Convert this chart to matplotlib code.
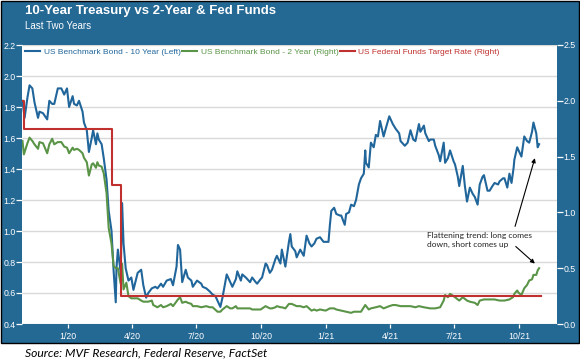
import matplotlib
matplotlib.use("Agg")
import matplotlib.pyplot as plt
from matplotlib.patches import Rectangle
import pandas as pd

# ---------------- data ----------------
dates_10y = ["2019-10-29","2019-11-01","2019-11-05","2019-11-08","2019-11-12","2019-11-15","2019-11-20","2019-11-22",
 "2019-11-27","2019-12-03","2019-12-06","2019-12-10","2019-12-13","2019-12-18","2019-12-23","2019-12-27","2019-12-31",
 "2020-01-03","2020-01-08","2020-01-10","2020-01-14","2020-01-17","2020-01-22","2020-01-24","2020-01-28","2020-01-31",
 "2020-02-04","2020-02-06","2020-02-10","2020-02-12","2020-02-14","2020-02-18","2020-02-21","2020-02-25","2020-02-28",
 "2020-03-03","2020-03-06","2020-03-09","2020-03-10","2020-03-12","2020-03-16","2020-03-18","2020-03-20","2020-03-23",
 "2020-03-27","2020-03-31","2020-04-03","2020-04-09","2020-04-14","2020-04-17","2020-04-21","2020-04-24","2020-04-29",
 "2020-05-04","2020-05-07","2020-05-12","2020-05-15","2020-05-20","2020-05-26","2020-05-29","2020-06-03","2020-06-05",
 "2020-06-08","2020-06-11","2020-06-16","2020-06-19","2020-06-24","2020-06-26","2020-07-02","2020-07-08","2020-07-10",
 "2020-07-15","2020-07-20","2020-07-24","2020-07-28","2020-07-31","2020-08-04","2020-08-07","2020-08-13","2020-08-18",
 "2020-08-21","2020-08-26","2020-08-28","2020-09-02","2020-09-04","2020-09-09","2020-09-15","2020-09-18","2020-09-23",
 "2020-09-25","2020-09-30","2020-10-02","2020-10-07","2020-10-09","2020-10-13","2020-10-16","2020-10-21","2020-10-23",
 "2020-10-28","2020-10-30","2020-11-04","2020-11-09","2020-11-11","2020-11-13","2020-11-18","2020-11-20","2020-11-25",
 "2020-11-30","2020-12-04","2020-12-08","2020-12-11","2020-12-15","2020-12-18","2020-12-23","2020-12-28","2020-12-31",
 "2021-01-04","2021-01-06","2021-01-08","2021-01-12","2021-01-15","2021-01-20","2021-01-22","2021-01-27","2021-01-29",
 "2021-02-02","2021-02-05","2021-02-09","2021-02-12","2021-02-16","2021-02-19","2021-02-23","2021-02-25","2021-02-26",
 "2021-03-02","2021-03-05","2021-03-09","2021-03-12","2021-03-15","2021-03-18","2021-03-23","2021-03-26","2021-03-31",
 "2021-04-05","2021-04-09","2021-04-14","2021-04-16","2021-04-22","2021-04-26","2021-04-30","2021-05-04","2021-05-07",
 "2021-05-12","2021-05-14","2021-05-19","2021-05-21","2021-05-26","2021-05-28","2021-06-02","2021-06-04","2021-06-09",
 "2021-06-11","2021-06-16","2021-06-18","2021-06-22","2021-06-25","2021-06-30","2021-07-02","2021-07-06","2021-07-08",
 "2021-07-13","2021-07-16","2021-07-19","2021-07-23","2021-07-27","2021-07-30","2021-08-03","2021-08-06","2021-08-10",
 "2021-08-12","2021-08-17","2021-08-20","2021-08-24","2021-08-27","2021-09-01","2021-09-03","2021-09-08","2021-09-10",
 "2021-09-14","2021-09-17","2021-09-20","2021-09-23","2021-09-24","2021-09-28","2021-09-30","2021-10-04","2021-10-08",
 "2021-10-12","2021-10-15","2021-10-19","2021-10-21","2021-10-25","2021-10-27","2021-10-29"]
vals_10y = [1.84,1.73,1.86,1.94,1.92,1.83,1.73,1.77,
 1.76,1.72,1.84,1.82,1.82,1.92,1.92,1.88,1.92,
 1.80,1.87,1.82,1.81,1.84,1.77,1.70,1.65,1.51,
 1.60,1.65,1.56,1.63,1.59,1.56,1.47,1.33,1.13,
 1.00,0.74,0.54,0.76,0.88,0.73,1.18,0.92,0.76,
 0.68,0.70,0.62,0.73,0.75,0.65,0.57,0.60,0.63,
 0.64,0.63,0.66,0.64,0.68,0.69,0.65,0.77,0.91,
 0.88,0.67,0.75,0.70,0.68,0.64,0.68,0.66,0.64,
 0.63,0.61,0.59,0.58,0.55,0.51,0.57,0.72,0.67,
 0.64,0.69,0.74,0.68,0.72,0.70,0.67,0.70,0.67,
 0.66,0.69,0.70,0.79,0.78,0.73,0.75,0.82,0.84,
 0.79,0.88,0.77,0.93,0.98,0.90,0.87,0.83,0.88,
 0.84,0.97,0.92,0.90,0.92,0.95,0.96,0.93,0.93,
 0.93,1.04,1.13,1.15,1.11,1.10,1.10,1.04,1.11,
 1.12,1.17,1.16,1.20,1.30,1.34,1.37,1.52,1.44,
 1.41,1.57,1.54,1.62,1.61,1.71,1.61,1.66,1.74,
 1.69,1.66,1.63,1.58,1.55,1.57,1.65,1.59,1.58,
 1.69,1.64,1.68,1.63,1.58,1.59,1.59,1.55,1.49,
 1.45,1.57,1.44,1.47,1.52,1.45,1.43,1.35,1.29,
 1.42,1.29,1.19,1.28,1.24,1.22,1.17,1.30,1.35,
 1.36,1.26,1.26,1.29,1.31,1.30,1.32,1.34,1.34,
 1.28,1.37,1.31,1.41,1.46,1.54,1.52,1.48,1.61,
 1.58,1.57,1.64,1.70,1.63,1.54,1.56]

dates_2y = ["2019-10-29","2019-10-31","2019-11-05","2019-11-08","2019-11-12","2019-11-15","2019-11-20","2019-11-22",
 "2019-11-27","2019-12-03","2019-12-06","2019-12-10","2019-12-13","2019-12-18","2019-12-23","2019-12-27","2019-12-31",
 "2020-01-03","2020-01-08","2020-01-10","2020-01-14","2020-01-17","2020-01-22","2020-01-24","2020-01-28","2020-01-31",
 "2020-02-04","2020-02-06","2020-02-10","2020-02-12","2020-02-14","2020-02-18","2020-02-21","2020-02-25","2020-02-28",
 "2020-03-03","2020-03-06","2020-03-09","2020-03-12","2020-03-16","2020-03-18","2020-03-20","2020-03-24","2020-03-27",
 "2020-03-31","2020-04-03","2020-04-09","2020-04-14","2020-04-17","2020-04-21","2020-04-24","2020-04-29","2020-05-01",
 "2020-05-07","2020-05-12","2020-05-15","2020-05-20","2020-05-26","2020-05-29","2020-06-05","2020-06-08","2020-06-11",
 "2020-06-16","2020-06-19","2020-06-24","2020-06-26","2020-07-02","2020-07-08","2020-07-15","2020-07-20","2020-07-24",
 "2020-07-31","2020-08-04","2020-08-07","2020-08-13","2020-08-18","2020-08-21","2020-08-26","2020-08-28","2020-09-04",
 "2020-09-09","2020-09-15","2020-09-18","2020-09-25","2020-09-30","2020-10-07","2020-10-13","2020-10-16","2020-10-21",
 "2020-10-23","2020-10-28","2020-10-30","2020-11-04","2020-11-09","2020-11-13","2020-11-20","2020-11-25","2020-11-30",
 "2020-12-04","2020-12-11","2020-12-15","2020-12-18","2020-12-23","2020-12-31","2021-01-06","2021-01-12","2021-01-15",
 "2021-01-22","2021-01-29","2021-02-05","2021-02-09","2021-02-12","2021-02-19","2021-02-25","2021-03-02","2021-03-05",
 "2021-03-12","2021-03-18","2021-03-23","2021-03-31","2021-04-05","2021-04-09","2021-04-16","2021-04-22","2021-04-30",
 "2021-05-07","2021-05-12","2021-05-19","2021-05-28","2021-06-04","2021-06-11","2021-06-16","2021-06-18","2021-06-22",
 "2021-06-25","2021-06-30","2021-07-02","2021-07-08","2021-07-13","2021-07-19","2021-07-23","2021-07-30","2021-08-03",
 "2021-08-06","2021-08-12","2021-08-17","2021-08-20","2021-08-27","2021-09-03","2021-09-10","2021-09-17","2021-09-22",
 "2021-09-24","2021-09-28","2021-09-30","2021-10-04","2021-10-08","2021-10-12","2021-10-15","2021-10-19","2021-10-21",
 "2021-10-25","2021-10-27","2021-10-29"]
vals_2y = [1.64,1.52,1.62,1.67,1.64,1.61,1.57,1.63,
 1.62,1.53,1.61,1.66,1.61,1.63,1.63,1.59,1.58,
 1.53,1.58,1.56,1.57,1.56,1.53,1.49,1.45,1.33,
 1.43,1.44,1.40,1.45,1.42,1.41,1.35,1.17,0.86,
 0.72,0.52,0.50,0.50,0.36,0.54,0.31,0.37,0.25,
 0.23,0.23,0.23,0.21,0.20,0.20,0.20,0.21,0.17,
 0.15,0.17,0.15,0.16,0.18,0.16,0.22,0.24,0.19,
 0.20,0.19,0.18,0.16,0.16,0.15,0.16,0.15,0.15,
 0.11,0.11,0.13,0.16,0.14,0.14,0.16,0.14,0.14,
 0.14,0.14,0.13,0.13,0.13,0.16,0.14,0.14,0.15,
 0.16,0.15,0.15,0.14,0.18,0.18,0.16,0.16,0.15,
 0.16,0.12,0.13,0.12,0.13,0.12,0.14,0.14,0.13,
 0.12,0.11,0.10,0.11,0.11,0.11,0.17,0.13,0.14,
 0.15,0.16,0.14,0.16,0.17,0.17,0.16,0.16,0.16,
 0.15,0.16,0.15,0.14,0.14,0.15,0.21,0.26,0.24,
 0.27,0.25,0.24,0.21,0.24,0.21,0.20,0.19,0.17,
 0.21,0.22,0.22,0.22,0.22,0.21,0.21,0.22,0.24,
 0.27,0.30,0.28,0.26,0.32,0.35,0.39,0.40,0.44,
 0.44,0.48,0.50]

ff_dates = ["2019-10-29","2019-10-31","2020-03-04","2020-03-16","2021-10-31"]
ff_vals = [2.00, 1.75, 1.25, 0.25, 0.25]

xtick_dates = ["2020-01-01","2020-04-01","2020-07-01","2020-10-01","2021-01-01","2021-04-01","2021-07-01","2021-10-01"]
xtick_labels = ["1/20","4/20","7/20","10/20","1/21","4/21","7/21","10/21"]
left_ticks = [0.4,0.6,0.8,1.0,1.2,1.4,1.6,1.8,2.0,2.2]
right_ticks = [0.0,0.5,1.0,1.5,2.0,2.5]

labels = ["US Benchmark Bond - 10 Year (Left)", "US Benchmark Bond - 2 Year (Right)",
          "US Federal Funds Target Rate (Right)"]
title = "10-Year Treasury vs 2-Year & Fed Funds"
subtitle = "Last Two Years"
source = "Source: MVF Research, Federal Reserve, FactSet"
note = "Flattening trend: long comes\ndown, short comes up"

# ---------------- style ----------------
BG = "#246894"
C10 = "#21669b"
C2 = "#5a9447"
CFF = "#c0302f"
W, H = 580, 362

plt.rcParams["font.family"] = ["Liberation Sans", "DejaVu Sans"]
fig = plt.figure(figsize=(W / 100, H / 100), dpi=100)
fig.patch.set_facecolor("white")
bg = Rectangle((0.5 / W, 19 / H), (W - 1.5) / W, (H - 19.5) / H,
               transform=fig.transFigure, facecolor=BG,
               edgecolor="black", lw=1.0, zorder=-10)
fig.patches.append(bg)

ax = fig.add_axes([22 / W, (H - 324) / H, 535 / W, 279 / H])
ax.set_facecolor("white")
ax2 = ax.twinx()

d10 = pd.to_datetime(dates_10y)
d2 = pd.to_datetime(dates_2y)
dff = pd.to_datetime(ff_dates)

l1, = ax.plot(d10, vals_10y, color=C10, lw=1.5, solid_joinstyle="round")
l2, = ax2.plot(d2, vals_2y, color=C2, lw=1.5, solid_joinstyle="round")
l3, = ax2.plot(dff, ff_vals, color=CFF, lw=1.5, drawstyle="steps-post")

ax.set_xlim(pd.Timestamp("2019-10-28 08:00"), pd.Timestamp("2021-11-23 08:00"))
ax.set_ylim(0.4, 2.2)
ax2.set_ylim(0.0, 2.5)

ax.set_yticks(left_ticks)
ax.set_yticklabels([f"{v:.1f}" for v in left_ticks])
ax2.set_yticks(right_ticks)
ax2.set_yticklabels([f"{v:.1f}" for v in right_ticks])
ax.set_xticks(pd.to_datetime(xtick_dates))
ax.set_xticklabels(xtick_labels)

ax.yaxis.grid(True, color="#d9d9d9", lw=1.0)
ax.set_axisbelow(True)
for a in (ax, ax2):
    for s in a.spines.values():
        s.set_visible(False)
ax.tick_params(axis="y", colors="white", length=4, width=0.9, pad=0.5, labelsize=6.3)
ax.tick_params(axis="x", colors="white", length=3, width=0.9, pad=2.5, labelsize=6.3)
ax2.tick_params(axis="y", colors="white", length=4, width=0.9, pad=0.5, labelsize=6.3)

leg = ax2.legend([l1, l2, l3], labels, loc="upper left", ncol=3, frameon=False,
                 fontsize=6, labelcolor="linecolor", handlelength=1.8,
                 handletextpad=0.45, columnspacing=0.15, borderaxespad=0.35,
                 borderpad=0)

# annotation
ax.text(pd.Timestamp("2021-05-23"), 0.94, note, fontsize=6.0, color="#222222",
        family=["Lato", "DejaVu Sans"], va="center", ha="left", linespacing=1.3)
ax.annotate("", xy=(pd.Timestamp("2021-10-23"), 1.47), xytext=(pd.Timestamp("2021-09-25"), 1.03),
            arrowprops=dict(arrowstyle="-|>", color="black", lw=0.8, mutation_scale=6,
                            shrinkA=0, shrinkB=0))
ax.annotate("", xy=(pd.Timestamp("2021-10-23"), 0.79), xytext=(pd.Timestamp("2021-09-26"), 0.90),
            arrowprops=dict(arrowstyle="-|>", color="black", lw=0.8, mutation_scale=6,
                            shrinkA=0, shrinkB=0))

fig.text(25 / W, 1 - 11 / H, title, fontsize=9.5, weight="bold", color="white", va="center")
fig.text(25 / W, 1 - 26 / H, subtitle, fontsize=7, color="white", va="center")
fig.text(25 / W, 1 - 352.5 / H, source, fontsize=8.7, style="italic", color="black",
         va="center", family=["Lato", "DejaVu Sans"])

fig.savefig("out.png", dpi=100, facecolor=fig.get_facecolor())
